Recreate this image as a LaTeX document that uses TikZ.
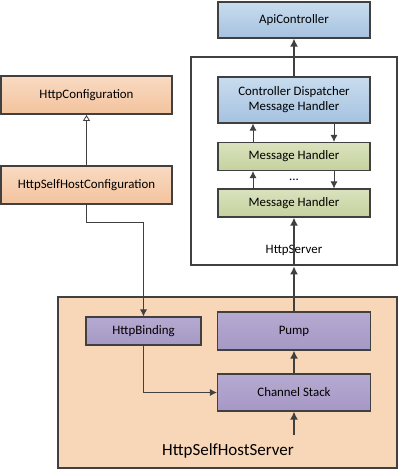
\documentclass[tikz,border=0pt]{standalone}
\usepackage{fontspec}
\setmainfont{Carlito}
\usetikzlibrary{arrows.meta,positioning}
\newlength\px \setlength\px{0.03cm}
\definecolor{edge}{HTML}{404040}
\definecolor{hostfill}{HTML}{F8D6B8}
\tikzstyle{box} = [rectangle, draw=edge, line width=0.9pt, text centered, align=center, inner sep=0pt]
\tikzstyle{confbox} = [box, line width=1.8pt, top color={rgb,255:red,249;green,218;blue,194}, bottom color={rgb,255:red,243;green,195;blue,157},
    minimum width=171\px, minimum height=38\px]
\tikzstyle{apibox} = [box, top color={rgb,255:red,200;green,220;blue,238}, bottom color={rgb,255:red,166;green,194;blue,224},
    minimum width=152\px]
\tikzstyle{handler} = [box, top color={rgb,255:red,218;green,226;blue,190}, bottom color={rgb,255:red,196;green,210;blue,158},
    minimum width=152\px, minimum height=28\px]
\tikzstyle{channel} = [box, top color={rgb,255:red,182;green,170;blue,209}, bottom color={rgb,255:red,165;green,152;blue,197},
    minimum width=153\px]
\tikzstyle{frame} = [rectangle, draw=edge, line width=2.2pt, inner sep=0pt]
\tikzstyle{line} = [draw=edge, line width=0.8pt, -{Latex[length=6pt,width=6pt]}]
\tikzstyle{flow} = [line, line width=1.4pt, -{Latex[length=7pt,width=7pt]}]
\tikzstyle{inherit} = [draw=edge, line width=0.7pt, -{Triangle[open,length=5pt,width=6pt]}]

\begin{document}
\begin{tikzpicture}[x=\px, y=-\px, font=\fontsize{11}{13}\selectfont]
    \useasboundingbox (0,0) rectangle (400,470);

    % Place frames
    \node [frame, fill=white, minimum width=206\px, minimum height=208\px] (server) at (294,161) {};
    \node [frame, fill=hostfill, minimum width=339\px, minimum height=171\px] (host) at (227.5,382.5) {};
    \node (serverlabel) at (294,250) {HttpServer};
    \node [font=\fontsize{14.5}{16}\selectfont] (hostlabel) at (228,451) {HttpSelfHostServer};

    % Place nodes
    \node [apibox, minimum height=36\px] (api) at (294,20) {ApiController};
    \node [apibox, minimum height=46\px] (disp) at (294,100) {Controller Dispatcher\\Message Handler};
    \node [handler] (mh1) at (294,156.5) {Message Handler};
    \node [handler] (mh2) at (294,203) {Message Handler};
    \node (dots) at (294,180) {...};
    \node [confbox] (conf) at (86.5,95) {HttpConfiguration};
    \node [confbox] (selfconf) at (86.5,185) {HttpSelfHostConfiguration};
    \node [channel, minimum width=115\px, minimum height=28\px] (binding) at (143.5,331) {HttpBinding};
    \node [channel, minimum height=38\px] (pump) at (294,331) {Pump};
    \node [channel, minimum height=37\px] (stack) at (294,392.5) {Channel Stack};
    \coordinate (input) at (294,435);

    % Draw edges
    \path [flow] (disp.north) -- (api.south);
    \path [line] ([xshift=40\px]disp.south) -- ([xshift=40\px]mh1.north);
    \path [line] ([xshift=40\px]mh1.south) -- ([xshift=40\px]mh2.north);
    \path [line] ([xshift=-41\px]mh1.north) -- ([xshift=-41\px]disp.south);
    \path [line] ([xshift=-41\px]mh2.north) -- ([xshift=-41\px]mh1.south);
    \path [flow] (server.south) -- (mh2.south);
    \path [flow] (pump.north) -- (server.south);
    \path [flow] (stack.north) -- (pump.south);
    \path [flow] (input) -- (stack.south);
    \path [inherit] (selfconf.north) -- (conf.south);
    \path [line] (selfconf.south) -- ++(0,17) -| (binding.north);
    \path [line] (binding.south) |- (stack.west);
\end{tikzpicture}
\end{document}
